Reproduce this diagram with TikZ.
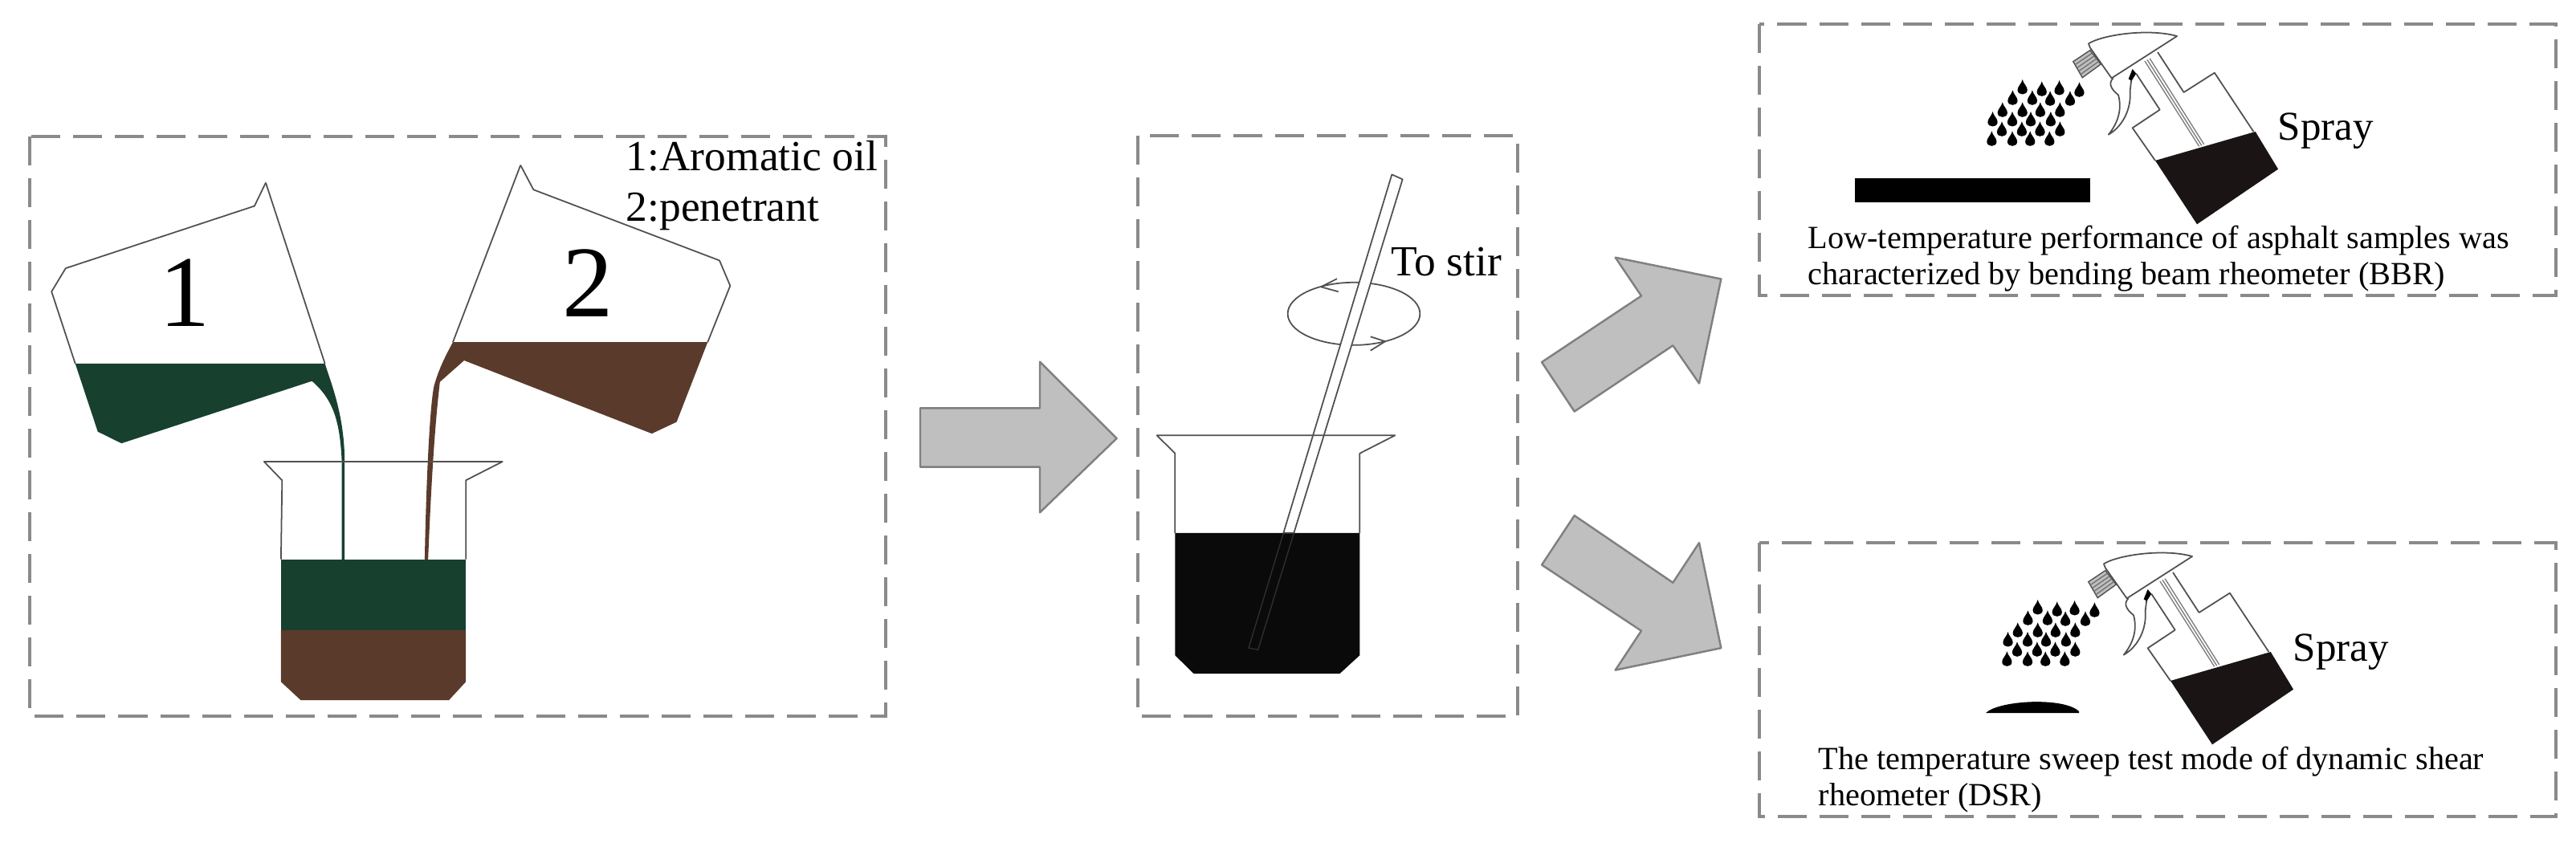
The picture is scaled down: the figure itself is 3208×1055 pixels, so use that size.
\documentclass[tikz,border=0pt]{standalone}
\usepackage{fontspec}
\usetikzlibrary{calc}
\setmainfont{Liberation Serif}
\definecolor{oilgreen}{HTML}{17402F}
\definecolor{oilbrown}{HTML}{5A3A2B}
\definecolor{sprayblack}{HTML}{1A1414}
\definecolor{linegrey}{HTML}{505050}
\definecolor{dashgrey}{HTML}{8A8A8A}
\definecolor{arrowfill}{HTML}{BFBFBF}
\definecolor{arrowline}{HTML}{808080}
\tikzset{
  panelbox/.style={draw=dashgrey,line width=1pt,dash pattern=on 0.36cm off 0.16cm},
  glass/.style={draw=linegrey,line width=0.5pt,line join=round},
  bigarrow/.style={draw=arrowline,fill=arrowfill,line width=0.7pt,line join=round},
  label/.style={inner sep=0pt,anchor=base west,text=black},
  zoomA/.style={shift={(20,150)},x=0.01cm/1.425,y=-0.01cm/2.063},
  zoomB/.style={shift={(1400,160)},x=0.01cm/3,y=-0.01cm/2.178},
  zoomC/.style={shift={(2400,20)},x=0.01cm/2.613,y=-0.01cm/3},
  zoomD/.style={shift={(1900,300)},x=0.01cm/3,y=-0.01cm/2.8},
  zoomE/.style={shift={(1120,420)},x=0.01cm/3,y=-0.01cm/3}
}
\newcommand{\sprayer}[2]{%
\begin{scope}[shift={(#1,#2)}]
\begin{scope}[zoomC]
  % droplets
  \foreach \a/\b in {310/265,373/272,430/268,495/275,278/305,342/305,400/308,465/308,
                     245/350,310/350,368/350,432/350,213/385,277/385,337/385,402/385,
                     243/422,308/422,367/422,432/422,210/458,277/458,335/458,398/458}{
    \fill[black] (\a,\b-28) .. controls (\a+3,\b-12) and (\a+16,\b-2) .. (\a+16,\b+11)
      .. controls (\a+16,\b+33) and (\a-16,\b+33) .. (\a-16,\b+11)
      .. controls (\a-16,\b-2) and (\a-3,\b-12) .. cycle;
  }
  % nozzle
  \draw[draw=linegrey,fill=black!25,line width=0.4pt] (475,170)--(530,128)--(565,180)--(505,230)--cycle;
  \foreach \t in {0.2,0.4,0.6,0.8}{
    \draw[black!55,line width=0.4pt] ($(475,170)!\t!(505,230)$)--($(530,128)!\t!(565,180)$);
  }
  % head and trigger
  \draw[glass] (525,103) .. controls (570,70) and (720,45) .. (813,75) -- (600,232) -- (530,118) -- cycle;
  \draw[glass] (605,232) .. controls (590,250) and (595,270) .. (622,295)
     .. controls (635,350) and (620,400) .. (590,443)
     .. controls (640,410) and (665,340) .. (660,280) -- (668,205);
  \fill[black] (655,235)--(668,198)--(680,215)--(665,242)--cycle;
  % body
  \draw[glass] (750,135)--(835,285)--(935,212)--(1062,432);
  \draw[glass] (680,215)--(757,350)--(668,418)--(742,540);
  \draw[draw=black!50,line width=0.4pt] (708,168)--(885,487);
  \draw[draw=black!50,line width=0.4pt] (716,163)--(893,484);
  \draw[draw=black!50,line width=0.4pt] (724,158)--(901,480);
  \fill[sprayblack] (742,540)--(1068,432)--(1142,572)--(878,778)--cycle;
\end{scope}
\end{scope}}

\begin{document}
\begin{tikzpicture}[x=0.01cm,y=-0.01cm,font=\fontsize{15.2pt}{18pt}\selectfont]
\useasboundingbox (0,0) rectangle (3208,1055);

% dashed panels
\draw[panelbox] (37,170) rectangle (1103,892);
\draw[panelbox] (1417,169) rectangle (1890,892);
\draw[panelbox] (2191,30) rectangle (3183,368);
\draw[panelbox] (2191,676) rectangle (3183,1017);

% big arrows
\begin{scope}[zoomE]
  \draw[bigarrow] (78,265)--(525,265)--(525,92)--(812,378)--(525,655)--(525,485)--(78,485)--cycle;
\end{scope}
\begin{scope}[zoomD]
  \draw[bigarrow] (60,423)--(432,192)--(335,58)--(730,133)--(648,497)--(550,365)--(182,595)--cycle;
  \draw[bigarrow] (60,1130)--(432,1360)--(335,1497)--(730,1420)--(648,1053)--(550,1192)--(182,958)--cycle;
\end{scope}

% panel 1: pouring
\begin{scope}[zoomA]
  \fill[oilgreen] (105,625)--(548,625) .. controls (560,680) and (583,760) .. (583,880)
     --(583,1130)--(578,1130)--(578,880) .. controls (575,780) and (565,720) .. (525,670)
     --(187,830)--(145,800)--cycle;
  \fill[oilbrown] (775,570)--(1227,570)--(1172,775)--(1128,805)--(795,617)--(752,672)
     .. controls (745,760) and (738,880) .. (731,1130) --(725,1130)
     .. controls (728,900) and (735,720) .. (742,680)
     .. controls (750,640) and (760,610) .. cycle;
  \draw[glass] (443,160)--(423,220)--(88,380)--(63,440)--(105,625);
  \draw[glass] (443,160)--(548,625);
  \draw[glass] (895,115)--(918,178)--(1248,360)--(1267,425)--(1227,570);
  \draw[glass] (895,115)--(775,570);
  % receiving beaker
  \fill[oilgreen] (470,1128) rectangle (798,1310);
  \fill[oilbrown] (470,1310)--(798,1310)--(798,1443)--(768,1490)--(505,1490)--(470,1443)--cycle;
  \draw[glass] (470,1128)--(472,925)--(440,877)--(863,877)--(798,925)--(798,1128);
\end{scope}
\node[label,font=\fontsize{36pt}{40pt}\selectfont,anchor=base] (numone) at (230,407) {1};
\node[label,font=\fontsize{36pt}{40pt}\selectfont,anchor=base] (numtwo) at (732,395) {2};
\node[label] (legendone) at (779,213) {1:Aromatic oil};
\node[label] (legendtwo) at (779,276) {2:penetrant};

% panel 2: stirring
\begin{scope}[zoomB]
  \draw[glass] (858,503) ellipse [x radius=0.823cm,y radius=0.39cm];
  \draw[glass] (795,408)--(735,430)--(800,443);
  \draw[glass] (920,565)--(975,578)--(920,603);
  \fill[black!96] (190,1098)--(880,1098)--(880,1430)--(805,1480)--(260,1480)--(190,1430)--cycle;
  \draw[glass,fill=white] (1000,125)--(1040,138)--(634,1098)--(595,1098)--cycle;
  \draw[black!82,line width=0.4pt] (595,1098)--(465,1410)--(500,1415)--(634,1098);
  \draw[glass] (190,1098)--(190,882)--(122,833)--(1012,833)--(880,882)--(880,1098);
\end{scope}
\node[label] (stir) at (1732,344) {To stir};

% panel 3
\fill[black] (2310,222) rectangle (2603,252);
\sprayer{0}{0}
\node[label,font=\fontsize{14.5pt}{18pt}\selectfont] (sprayone) at (2836,175) {Spray};
\node[label,font=\fontsize{11.45pt}{14pt}\selectfont] (bbrone) at (2251,310) {Low-temperature performance of asphalt samples was};
\node[label,font=\fontsize{11.45pt}{14pt}\selectfont] (bbrtwo) at (2251,355) {characterized by bending beam rheometer (BBR)};

% panel 4
\fill[black] (2473,888) .. controls (2490,872) and (2570,868) .. (2589,886) -- (2589,888) -- cycle;
\sprayer{19}{648}
\node[label,font=\fontsize{14.5pt}{18pt}\selectfont] (spraytwo) at (2855,823) {Spray};
\node[label,font=\fontsize{11.45pt}{14pt}\selectfont] (dsrone) at (2264,958) {The temperature sweep test mode of dynamic shear};
\node[label,font=\fontsize{11.45pt}{14pt}\selectfont] (dsrtwo) at (2264,1003) {rheometer (DSR)};
\end{tikzpicture}
\end{document}
